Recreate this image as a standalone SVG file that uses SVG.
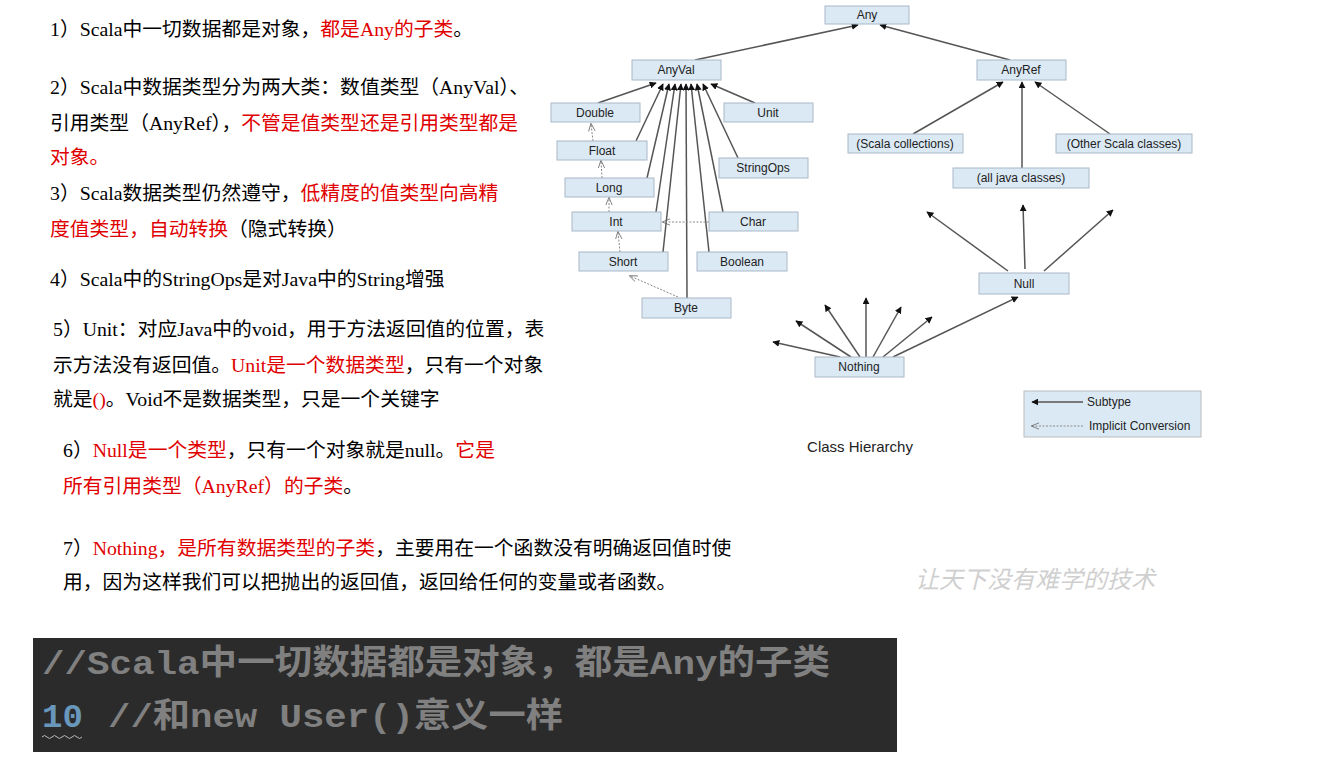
<svg xmlns="http://www.w3.org/2000/svg" width="1319" height="767" viewBox="0 0 1319 767">
<style>
.t{font-family:"Liberation Serif","Noto Sans CJK SC",serif;font-size:19.8px;fill:#000}
.r{fill:#e00000}
.n rect{fill:#dbe9f5;stroke:#a9b8c6;stroke-width:1}
.n text{font-family:"Liberation Sans",Arial,sans-serif;font-size:12px;fill:#222;text-anchor:middle}
.s{stroke:#555;stroke-width:1.5;fill:none;marker-end:url(#a)}
.d{stroke:#888;stroke-width:1;stroke-dasharray:2,1.5;fill:none;marker-end:url(#o)}
.c{font-family:"Liberation Mono","Noto Sans CJK SC",monospace;font-size:34px;font-weight:bold}
</style>
<defs>
<marker id="a" viewBox="0 0 10 10" refX="9" refY="5" markerWidth="7" markerHeight="7" orient="auto-start-reverse" markerUnits="userSpaceOnUse"><path d="M0,0L10,5L0,10z" fill="#111"/></marker>
<marker id="o" viewBox="0 0 10 10" refX="9" refY="5" markerWidth="8" markerHeight="8" orient="auto" markerUnits="userSpaceOnUse"><path d="M0,1L10,5L0,9" fill="none" stroke="#666"/></marker>
</defs>
<rect width="1319" height="767" fill="#fff"/>
<g id="notes">
<text class="t" x="50" y="36">1）Scala中一切数据都是对象，<tspan class="r">都是Any的子类</tspan>。</text>
<text class="t" x="50" y="94">2）Scala中数据类型分为两大类：数值类型（AnyVal）、</text>
<text class="t" x="50" y="130">引用类型（AnyRef），<tspan class="r">不管是值类型还是引用类型都是</tspan></text>
<text class="t r" x="50" y="164">对象。</text>
<text class="t" x="50" y="200">3）Scala数据类型仍然遵守，<tspan class="r">低精度的值类型向高精</tspan></text>
<text class="t" x="50" y="236"><tspan class="r">度值类型，自动转换</tspan>（隐式转换）</text>
<text class="t" x="50" y="286">4）Scala中的StringOps是对Java中的String增强</text>
<text class="t" x="53" y="336">5）Unit：对应Java中的void，用于方法返回值的位置，表</text>
<text class="t" x="53" y="372">示方法没有返回值。<tspan class="r">Unit是一个数据类型</tspan>，只有一个对象</text>
<text class="t" x="53" y="406">就是<tspan class="r">()</tspan>。Void不是数据类型，只是一个关键字</text>
<text class="t" x="63" y="457">6）<tspan class="r">Null是一个类型</tspan>，只有一个对象就是null。<tspan class="r">它是</tspan></text>
<text class="t" x="63" y="493"><tspan class="r">所有引用类型（AnyRef）的子类</tspan>。</text>
<text class="t" x="63" y="555">7）<tspan class="r">Nothing，是所有数据类型的子类</tspan>，主要用在一个函数没有明确返回值时使</text>
<text class="t" x="63" y="589">用，因为这样我们可以把抛出的返回值，返回给任何的变量或者函数。</text>
<text x="915" y="588" font-family="'Noto Sans CJK SC',sans-serif" font-size="24" fill="#cfcfcf" font-style="italic">让天下没有难学的技术</text>
</g>
<g id="connectors">
<path class="s" d="M695,60L858,25"/>
<path class="s" d="M1010,60L880,25"/>
<path class="s" d="M598,103L656,83"/>
<path class="s" d="M636,141L663,84"/>
<path class="s" d="M647,178L669,84"/>
<path class="s" d="M656,212L675,84"/>
<path class="s" d="M663,252L681,84"/>
<path class="s" d="M687,298L686,84"/>
<path class="s" d="M709,252L691,84"/>
<path class="s" d="M723,212L697,84"/>
<path class="s" d="M738,158L703,84"/>
<path class="s" d="M755,103L711,84"/>
<path class="d" d="M593,141L591,124"/>
<path class="d" d="M602,178L601,161"/>
<path class="d" d="M609,212L609,198"/>
<path class="d" d="M620,252L618,232"/>
<path class="d" d="M709,222L663,222"/>
<path class="d" d="M678,297L630,276"/>
<path class="s" d="M913,134L1003,82"/>
<path class="s" d="M1022,168L1022,82"/>
<path class="s" d="M1110,134L1035,82"/>
<path class="s" d="M1008,271L927,212"/>
<path class="s" d="M1025,269L1023,205"/>
<path class="s" d="M1044,271L1113,210"/>
<path class="s" d="M840,357L773,342"/>
<path class="s" d="M851,357L796,321"/>
<path class="s" d="M860,357L825,305"/>
<path class="s" d="M866,357L866,298"/>
<path class="s" d="M873,357L901,307"/>
<path class="s" d="M883,357L932,317"/>
<path class="s" d="M893,357L1018,297"/>
</g>
<g id="Any" class="n"><rect x="825" y="6" width="84" height="18"/><text x="867" y="19">Any</text></g>
<g id="AnyVal" class="n"><rect x="632" y="60" width="89" height="20"/><text x="676" y="74">AnyVal</text></g>
<g id="AnyRef" class="n"><rect x="977" y="60" width="89" height="20"/><text x="1021" y="74">AnyRef</text></g>
<g id="Double" class="n"><rect x="551" y="103" width="89" height="19"/><text x="595" y="117">Double</text></g>
<g id="Unit" class="n"><rect x="724" y="103" width="89" height="19"/><text x="768" y="117">Unit</text></g>
<g id="Float" class="n"><rect x="557" y="141" width="90" height="19"/><text x="602" y="155">Float</text></g>
<g id="StringOps" class="n"><rect x="719" y="158" width="89" height="20"/><text x="763" y="172">StringOps</text></g>
<g id="Long" class="n"><rect x="565" y="178" width="89" height="19"/><text x="609" y="192">Long</text></g>
<g id="Int" class="n"><rect x="572" y="212" width="89" height="19"/><text x="616" y="226">Int</text></g>
<g id="Char" class="n"><rect x="709" y="212" width="89" height="19"/><text x="753" y="226">Char</text></g>
<g id="Short" class="n"><rect x="579" y="252" width="89" height="19"/><text x="623" y="266">Short</text></g>
<g id="Boolean" class="n"><rect x="697" y="252" width="90" height="19"/><text x="742" y="266">Boolean</text></g>
<g id="Byte" class="n"><rect x="642" y="298" width="89" height="20"/><text x="686" y="312">Byte</text></g>
<g id="ScalaCollections" class="n"><rect x="848" y="134" width="115" height="19"/><text x="905" y="148">(Scala collections)</text></g>
<g id="OtherScala" class="n"><rect x="1056" y="134" width="136" height="19"/><text x="1124" y="148">(Other Scala classes)</text></g>
<g id="AllJava" class="n"><rect x="953" y="168" width="136" height="20"/><text x="1021" y="182">(all java classes)</text></g>
<g id="Null" class="n"><rect x="979" y="273" width="90" height="21"/><text x="1024" y="288">Null</text></g>
<g id="Nothing" class="n"><rect x="815" y="357" width="89" height="20"/><text x="859" y="371">Nothing</text></g>
<g id="legend">
<rect x="1024" y="391" width="177" height="46" fill="#dbe9f5" stroke="#bbb"/>
<path class="s" d="M1083,402L1032,402"/>
<path class="d" d="M1083,426L1032,426"/>
<text x="1087" y="406" font-family="'Liberation Sans',sans-serif" font-size="12" fill="#222">Subtype</text>
<text x="1089" y="430" font-family="'Liberation Sans',sans-serif" font-size="12" fill="#222">Implicit Conversion</text>
</g>
<text x="860" y="452" text-anchor="middle" font-family="'Liberation Sans',sans-serif" font-size="15" fill="#222">Class Hierarchy</text>
<g id="code">
<rect x="33" y="638" width="864" height="114" fill="#2b2b2b"/>
<text class="c" x="42" y="674" fill="#808080" textLength="788" lengthAdjust="spacingAndGlyphs">//Scala中一切数据都是对象，都是Any的子类</text>
<text class="c" x="42" y="727" fill="#6897bb">10</text>
<text class="c" x="108" y="727" fill="#808080" textLength="455" lengthAdjust="spacingAndGlyphs">//和new User()意义一样</text>
<path d="M42,737q2.5,-3 5,0t5,0t5,0t5,0t5,0t5,0t5,0t5,0" fill="none" stroke="#bbb" stroke-width="1"/>
</g>
</svg>
